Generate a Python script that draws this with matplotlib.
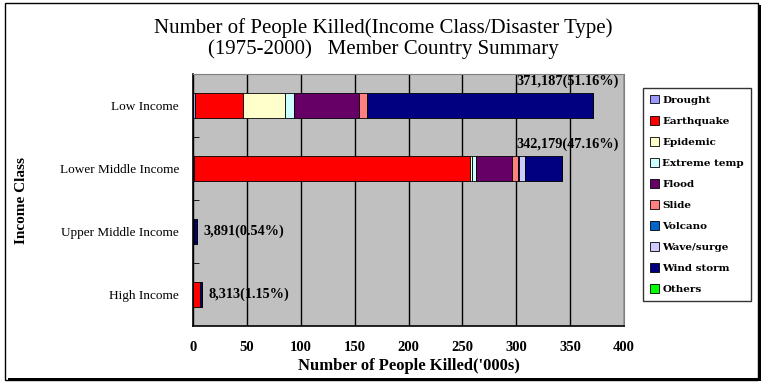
import matplotlib
matplotlib.use("Agg")
import matplotlib.pyplot as plt
from matplotlib.patches import Rectangle
import numpy as np

categories = ["Low Income", "Lower Middle Income", "Upper Middle Income", "High Income"]
disaster_types = ["Drought", "Earthquake", "Epidemic", "Extreme temp", "Flood",
                  "Slide", "Volcano", "Wave/surge", "Wind storm", "Others"]
# values in '000s, one entry per category
drought      = [1.5, 1.0, 0.0, 0.0]
earthquake   = [45.2, 256.0, 0.0, 6.8]
epidemic     = [39.0, 1.5, 0.0, 0.0]
extreme_temp = [8.3, 4.5, 0.0, 0.0]
flood        = [60.4, 33.0, 0.8, 0.0]
slide        = [6.8, 5.5, 0.0, 0.0]
volcano      = [0.0, 1.0, 0.0, 0.0]
wave_surge   = [0.5, 6.0, 0.0, 0.0]
wind_storm   = [209.5, 33.7, 3.091, 1.513]
others       = [0.0, 0.0, 0.0, 0.0]
totals_labels = ["371,187(51.16%)", "342,179(47.16%)", "3,891(0.54%)", "8,313(1.15%)"]
xticks = [0, 50, 100, 150, 200, 250, 300, 350, 400]

series = [drought, earthquake, epidemic, extreme_temp, flood, slide, volcano,
          wave_surge, wind_storm, others]
colors = ["#9999FF", "#FF0000", "#FFFFCC", "#CCFFFF", "#660066", "#FF8080",
          "#0066CC", "#CCCCFF", "#000080", "#00FF00"]

serif = "Liberation Serif"
wide = "DejaVu Serif"

fig = plt.figure(figsize=(7.67, 3.86), dpi=100)
fig.patch.set_facecolor("white")
# outer border with shadow
fig.add_artist(Rectangle((5/767, 1 - 380/386), 753/767, 377/386, transform=fig.transFigure,
                         facecolor="none", edgecolor="black", linewidth=1.0))
fig.add_artist(Rectangle((758/767, 1 - 381/386), 3/767, 376/386, transform=fig.transFigure,
                         facecolor="black", edgecolor="none"))
fig.add_artist(Rectangle((8/767, 1 - 381/386), 753/767, 3/386, transform=fig.transFigure,
                         facecolor="black", edgecolor="none"))

ax = fig.add_axes([193/767, 1 - 326/386, 431/767, 252/386])
ax.set_facecolor("#C0C0C0")

y = np.arange(len(categories))
left = np.zeros(len(categories))
handles = []
for name, vals, c in zip(disaster_types, series, colors):
    v = np.array(vals, dtype=float)
    b = ax.barh(y, v, left=left, height=0.4, color=c, edgecolor="black", linewidth=0.6,
                label=name)
    handles.append(b)
    left += v

ax.set_xlim(0, 400)
ax.set_ylim(3.5, -0.5)
ax.set_xticks(xticks)
ax.set_xticklabels([str(t) for t in xticks], fontfamily=serif, fontweight="bold", fontsize=10.5)
ax.xaxis.grid(True, color="black", linewidth=1.0)
ax.set_axisbelow(True)
ax.tick_params(axis="x", length=0, pad=11)
ax.set_yticks(y)
ax.set_yticklabels(categories, fontfamily=serif, fontsize=9.5)
ax.tick_params(axis="y", length=0, pad=10)
ax.set_yticks([0.5, 1.5, 2.5], minor=True)
ax.tick_params(axis="y", which="minor", length=4, color="black", direction="in")
for s in ["top", "right"]:
    ax.spines[s].set_color("#808080")
for s in ["left", "bottom"]:
    ax.spines[s].set_color("black")
    ax.spines[s].set_linewidth(1.2)

# labels
for i, (tot, lab) in enumerate(zip(left, totals_labels)):
    if tot > 100:
        ax.text(300, i - 0.27, lab, fontfamily=serif, fontweight="bold", fontsize=10.3,
                ha="left", va="bottom")
    else:
        ax.text(tot + 6, i, lab, fontfamily=serif, fontweight="bold", fontsize=10.3,
                ha="left", va="center")

ax.set_xlabel("Number of People Killed('000s)", fontfamily=serif, fontweight="bold",
              fontsize=12, labelpad=3)
ax.set_ylabel("Income Class", fontfamily=serif, fontweight="bold", fontsize=11)
ax.yaxis.set_label_coords(-0.383, 0.5)

fig.text(0.5, 1 - 28/386, "Number of People Killed(Income Class/Disaster Type)",
         ha="center", va="center", fontfamily=serif, fontsize=15)
fig.text(0.5, 1 - 49/386, "(1975-2000)   Member Country Summary",
         ha="center", va="center", fontfamily=serif, fontsize=15)

leg = fig.legend(handles=handles, labels=disaster_types, loc="upper left",
                 bbox_to_anchor=(643/767, 1 - 88/386), frameon=True, fancybox=False,
                 prop={"family": wide, "weight": "bold", "size": 7.5},
                 handlelength=0.85, handleheight=0.85, handletextpad=0.3,
                 labelspacing=1.08, borderpad=0.69, borderaxespad=0)
leg.get_frame().set_edgecolor("black")
leg.get_frame().set_linewidth(1.0)

fig.savefig("out.png", dpi=100)
